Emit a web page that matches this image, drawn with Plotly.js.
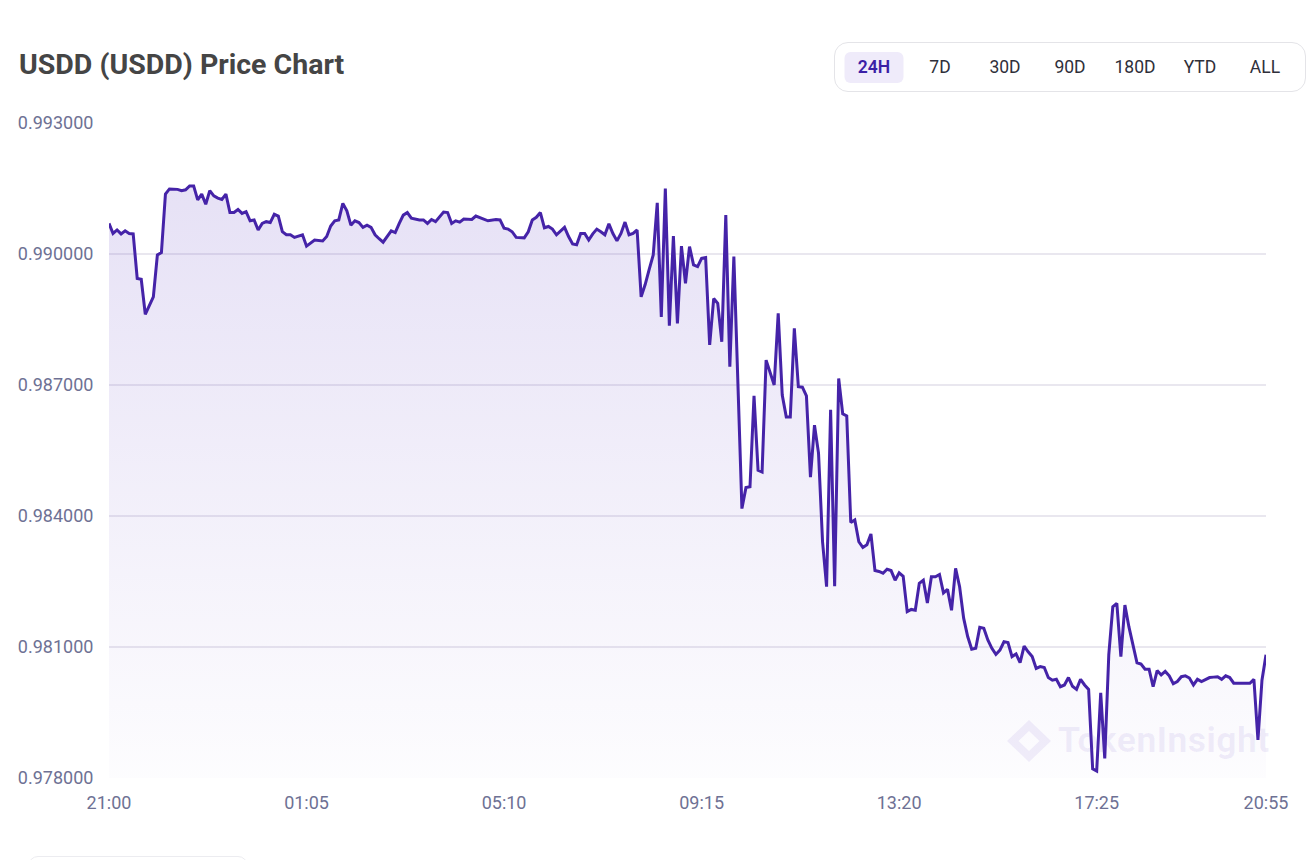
<!DOCTYPE html>
<html>
<head>
<meta charset="utf-8">
<script src="https://cdn.plot.ly/plotly-3.0.1.min.js"></script>
<style>
  html, body { margin: 0; padding: 0; background: #ffffff; }
  body { width: 1308px; height: 860px; position: relative; overflow: hidden; font-family: Roboto, "Open Sans", sans-serif; }
  #chart { position: absolute; left: 0; top: 0; width: 1308px; height: 860px; }
  #title { position: absolute; left: 19px; top: 48px; font-size: 28.5px; font-weight: 700; color: #454545; }
  #btns { position: absolute; left: 834px; top: 42px; width: 470px; height: 48px; border: 1px solid #e4e4e8; border-radius: 14px; box-sizing: content-box; }
  .b { position: absolute; top: 9px; height: 31px; line-height: 31px; font-size: 17.5px; color: #2f2f3a; text-align: center; transform: translateX(-50%); white-space: nowrap; }
  .b.sel { background: #efebfa; color: #3b20a6; font-weight: 600; border-radius: 6px; width: 59px; }
  #wm { position: absolute; left: 1003px; top: 716px; width: 300px; height: 50px; pointer-events: none; }
  #stub { position: absolute; left: 28px; top: 856px; width: 218px; height: 20px; border: 1px solid #ececf0; border-radius: 10px; }
</style>
</head>
<body>
<div id="chart"></div>
<div id="title">USDD (USDD) Price Chart</div>
<div id="btns"></div>
<div id="wm">
  <svg width="52" height="50" viewBox="0 0 52 50" style="position:absolute;left:0;top:0">
    <path d="M26 4 L48 25 L26 46 L4 25 Z M26 15 L15.5 25 L26 35 L36.5 25 Z" fill="rgba(110,80,200,0.09)" fill-rule="evenodd"/>
  </svg>
  <div style="position:absolute;left:55px;top:3px;font-size:35.5px;font-weight:700;letter-spacing:0.4px;color:rgba(110,80,200,0.09);font-family:Roboto, sans-serif;">TokenInsight</div>
</div>
<div id="stub"></div>
<script>
// ---- data ----
const rangeButtons = ["24H", "7D", "30D", "90D", "180D", "YTD", "ALL"];
const startTime = "2024-01-01T21:00:00Z";
// minutes after 21:00
const minutesAfterStart = [
  0,5,10,15,20,25,30,35,40,45,55,60,65,70,75,85,90,95,100,105,110,115,120,125,130,135,140,145,150,155,
  160,165,170,175,180,185,190,195,200,205,210,215,220,225,230,235,240,245,250,255,265,270,275,280,285,290,295,300,305,310,
  315,320,325,330,335,340,350,355,360,365,370,375,385,390,395,400,405,415,420,425,430,435,440,450,455,470,480,485,490,495,
  500,505,515,520,525,530,535,540,545,550,555,560,565,570,575,580,585,590,595,600,605,610,615,620,625,630,635,640,645,650,
  655,660,665,670,675,680,685,690,695,700,705,710,715,720,725,730,735,740,745,750,755,760,765,770,775,785,790,795,800,805,
  810,815,820,825,830,835,840,845,850,855,860,865,870,875,880,885,890,895,900,905,910,915,920,925,930,935,940,945,950,955,
  960,965,970,975,980,985,990,995,1000,1005,1010,1015,1020,1025,1030,1035,1040,1045,1050,1055,1060,1065,1070,1075,1080,1085,1090,1095,1100,1105,
  1110,1115,1120,1125,1130,1135,1140,1145,1150,1155,1160,1165,1170,1175,1180,1185,1190,1195,1200,1205,1210,1215,1220,1225,1230,1235,1240,1245,1250,1255,
  1260,1265,1275,1280,1285,1290,1295,1300,1305,1310,1315,1320,1325,1330,1335,1340,1345,1350,1355,1360,1365,1370,1375,1380,1385,1390,1395,1405,1415,1420,
  1425,1430,1435
];
const priceUSD = [
  0.99070,0.99047,0.99055,0.99046,0.99053,0.99047,0.99046,0.98944,0.98942,0.98862,0.98902,0.98998,0.99003,0.99137,0.99149,0.99148,0.99145,0.99147,0.99156,0.99156,0.99124,0.99137,0.99114,0.99145,0.99133,0.99128,0.99125,0.99137,0.99095,0.99095,
  0.99102,0.99093,0.99097,0.99076,0.99078,0.99055,0.99070,0.99074,0.99072,0.99091,0.99087,0.99051,0.99044,0.99044,0.99038,0.99041,0.99044,0.99018,0.99024,0.99032,0.99030,0.99040,0.99064,0.99076,0.99078,0.99116,0.99099,0.99066,0.99076,0.99072,
  0.99061,0.99066,0.99061,0.99044,0.99035,0.99027,0.99053,0.99049,0.99070,0.99089,0.99095,0.99082,0.99078,0.99078,0.99070,0.99079,0.99074,0.99096,0.99095,0.99070,0.99076,0.99073,0.99080,0.99079,0.99087,0.99076,0.99079,0.99078,0.99059,0.99057,
  0.99051,0.99038,0.99037,0.99051,0.99078,0.99084,0.99095,0.99060,0.99063,0.99057,0.99044,0.99053,0.99061,0.99040,0.99023,0.99021,0.99047,0.99047,0.99032,0.99046,0.99057,0.99051,0.99044,0.99069,0.99047,0.99030,0.99047,0.99073,0.99044,0.99047,
  0.99055,0.98902,0.98930,0.98965,0.98998,0.99117,0.98856,0.99150,0.98836,0.99041,0.98841,0.99018,0.98933,0.99017,0.98975,0.98971,0.98990,0.98992,0.98792,0.98898,0.98887,0.98799,0.99089,0.98742,0.98994,0.98417,0.98465,0.98467,0.98675,0.98505,
  0.98501,0.98757,0.98730,0.98700,0.98864,0.98677,0.98627,0.98627,0.98830,0.98696,0.98695,0.98675,0.98489,0.98608,0.98544,0.98341,0.98238,0.98643,0.98239,0.98715,0.98634,0.98629,0.98385,0.98391,0.98341,0.98328,0.98334,0.98359,0.98275,0.98273,
  0.98269,0.98278,0.98275,0.98253,0.98270,0.98262,0.98181,0.98186,0.98184,0.98246,0.98253,0.98201,0.98261,0.98261,0.98266,0.98224,0.98232,0.98184,0.98280,0.98238,0.98166,0.98124,0.98095,0.98097,0.98145,0.98143,0.98116,0.98097,0.98083,0.98093,
  0.98112,0.98110,0.98078,0.98084,0.98064,0.98102,0.98089,0.98078,0.98051,0.98055,0.98053,0.98030,0.98024,0.98026,0.98009,0.98013,0.98030,0.98010,0.98003,0.98026,0.98013,0.98003,0.97821,0.97816,0.97995,0.97845,0.98082,0.98192,0.98200,0.98078,
  0.98196,0.98146,0.98064,0.98061,0.98049,0.98049,0.98009,0.98046,0.98036,0.98044,0.98034,0.98016,0.98021,0.98032,0.98034,0.98029,0.98013,0.98026,0.98021,0.98026,0.98030,0.98031,0.98032,0.98026,0.98034,0.98030,0.98017,0.98017,0.98017,0.98026,
  0.97887,0.98024,0.98082
];
const tickMinutes = [0, 245, 490, 735, 980, 1225, 1435];
const tickLabels = ["21:00", "01:05", "05:10", "09:15", "13:20", "17:25", "20:55"];
const yTicks = [0.978, 0.981, 0.984, 0.987, 0.990, 0.993];

// ---- build ----
const t0 = Date.parse(startTime);
function toDate(m) {
  const d = new Date(t0 + m * 60000);
  const p = n => String(n).padStart(2, "0");
  return d.getUTCFullYear() + "-" + p(d.getUTCMonth() + 1) + "-" + p(d.getUTCDate()) + " " + p(d.getUTCHours()) + ":" + p(d.getUTCMinutes());
}
const xs = minutesAfterStart.map(toDate);

// buttons
const btnCenters = [874, 940, 1005, 1070, 1135, 1200, 1265];
const btnBox = document.getElementById("btns");
rangeButtons.forEach((b, i) => {
  const el = document.createElement("div");
  el.className = "b" + (i === 0 ? " sel" : "");
  el.textContent = b;
  el.style.left = (btnCenters[i] - 835) + "px";
  btnBox.appendChild(el);
});

const trace = {
  type: "scatter",
  mode: "lines",
  x: xs,
  y: priceUSD,
  line: { color: "#4523a8", width: 3, shape: "linear" },
  fill: "tozeroy",
  fillcolor: "rgba(110,80,200,0.10)",
  fillgradient: {
    type: "vertical",
    start: 0.978,
    stop: 0.9915,
    colorscale: [[0, "rgba(110,80,200,0.015)"], [1, "rgba(110,80,200,0.17)"]]
  },
  hoverinfo: "skip"
};

const tickFont = { family: "Roboto, sans-serif", size: 18, color: "#6e7194" };

const layout = {
  width: 1308,
  height: 860,
  margin: { l: 109, r: 42, t: 123, b: 82, pad: 0 },
  paper_bgcolor: "rgba(0,0,0,0)",
  plot_bgcolor: "rgba(0,0,0,0)",
  showlegend: false,
  font: { family: "Roboto, sans-serif", color: "#6e7194", size: 18 },
  xaxis: {
    type: "date",
    range: [toDate(0), toDate(1435)],
    tickvals: tickMinutes.map(toDate),
    ticktext: tickLabels,
    showgrid: false,
    zeroline: false,
    showline: false,
    ticks: "outside",
    ticklen: 8,
    tickcolor: "rgba(0,0,0,0)",
    tickfont: tickFont,
    fixedrange: true
  },
  yaxis: {
    range: [0.978, 0.993],
    tickvals: yTicks,
    tickformat: ".6f",
    showgrid: true,
    gridcolor: "#e9e7ef",
    gridwidth: 1.2,
    zeroline: false,
    showline: false,
    ticks: "outside",
    ticklen: 11,
    tickcolor: "rgba(0,0,0,0)",
    tickfont: tickFont,
    fixedrange: true
  }
};

Plotly.newPlot("chart", [trace], layout, { staticPlot: true, displayModeBar: false });
</script>
</body>
</html>
